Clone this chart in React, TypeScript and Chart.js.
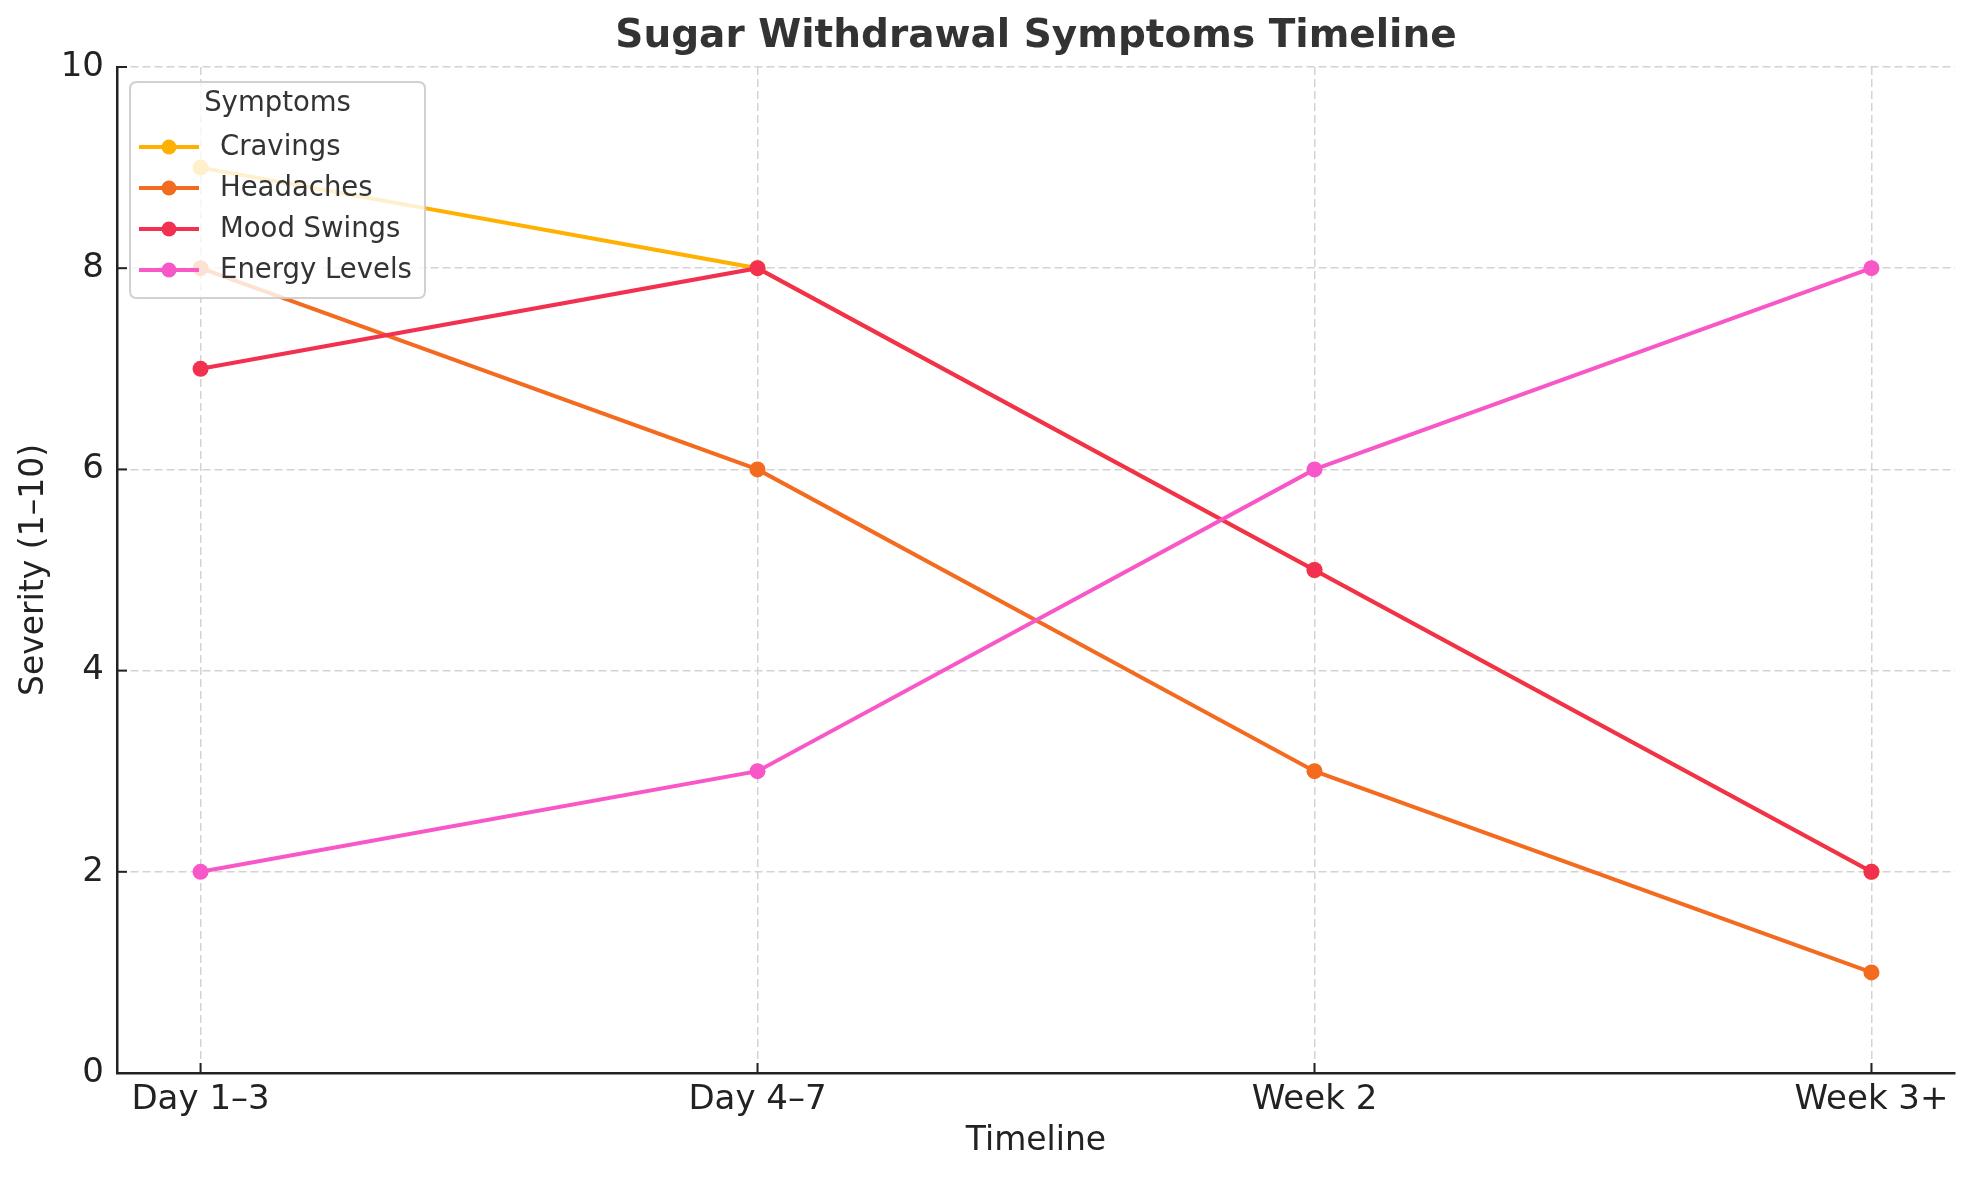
import { useEffect, useRef } from "react";
import { Chart, registerables } from "chart.js";

Chart.register(...registerables);

const categories = ["Day 1–3", "Day 4–7", "Week 2", "Week 3+"];
const cravings = [9, 8, 5, 2];
const headaches = [8, 6, 3, 1];
const moodSwings = [7, 8, 5, 2];
const energyLevels = [2, 3, 6, 8];
const seriesNames = ["Cravings", "Headaches", "Mood Swings", "Energy Levels"];
const seriesColors = ["#FFB000", "#F36B1F", "#F2304F", "#F857C8"];
const yTickValues = [0, 2, 4, 6, 8, 10];
const titleText = "Sugar Withdrawal Symptoms Timeline";
const xTitle = "Timeline";
const yTitle = "Severity (1–10)";
const legendTitle = "Symptoms";

const FONT = "'DejaVu Sans', sans-serif";
const W = 1974;
const H = 1180;

const decorPlugin = {
  id: "decor",
  afterDatasetsDraw(chart: any) {
    const ctx = chart.ctx;
    const bx = 130, by = 82, bw = 295, bh = 216, r = 7;
    ctx.save();
    ctx.beginPath();
    ctx.moveTo(bx + r, by);
    ctx.lineTo(bx + bw - r, by);
    ctx.quadraticCurveTo(bx + bw, by, bx + bw, by + r);
    ctx.lineTo(bx + bw, by + bh - r);
    ctx.quadraticCurveTo(bx + bw, by + bh, bx + bw - r, by + bh);
    ctx.lineTo(bx + r, by + bh);
    ctx.quadraticCurveTo(bx, by + bh, bx, by + bh - r);
    ctx.lineTo(bx, by + r);
    ctx.quadraticCurveTo(bx, by, bx + r, by);
    ctx.closePath();
    ctx.fillStyle = "rgba(255,255,255,0.8)";
    ctx.fill();
    ctx.lineWidth = 2;
    ctx.strokeStyle = "rgba(204,204,204,0.9)";
    ctx.stroke();

    ctx.fillStyle = "#333333";
    ctx.font = `27.5px ${FONT}`;
    ctx.textAlign = "center";
    ctx.textBaseline = "middle";
    ctx.fillText(legendTitle, bx + bw / 2, 104);

    const rows = [147, 188, 229, 270];
    ctx.textAlign = "left";
    seriesNames.forEach((name, i) => {
      const y = rows[i];
      ctx.strokeStyle = seriesColors[i];
      ctx.lineWidth = 4;
      ctx.beginPath();
      ctx.moveTo(139, y);
      ctx.lineTo(199, y);
      ctx.stroke();
      ctx.fillStyle = seriesColors[i];
      ctx.beginPath();
      ctx.arc(169, y, 7.5, 0, Math.PI * 2);
      ctx.fill();
      ctx.fillStyle = "#333333";
      ctx.fillText(name, 220, y + 1);
    });
    ctx.restore();
  },
  afterDraw(chart: any) {
    const ctx = chart.ctx;
    const area = chart.chartArea;
    const xs = chart.scales.x;
    const ys = chart.scales.y;
    ctx.save();
    ctx.strokeStyle = "#222222";
    ctx.lineWidth = 2;
    categories.forEach((_, i) => {
      const px = xs.getPixelForValue(i);
      ctx.beginPath();
      ctx.moveTo(px, area.bottom);
      ctx.lineTo(px, area.bottom - 10);
      ctx.stroke();
    });
    yTickValues.forEach((v) => {
      const py = ys.getPixelForValue(v);
      ctx.beginPath();
      ctx.moveTo(area.left, py);
      ctx.lineTo(area.left + 10, py);
      ctx.stroke();
    });
    const cx = (area.left + area.right) / 2;
    ctx.fillStyle = "#333333";
    ctx.font = `bold 39px ${FONT}`;
    ctx.textAlign = "center";
    ctx.textBaseline = "middle";
    ctx.fillText(titleText, cx, 37);
    ctx.fillStyle = "#222222";
    ctx.font = `33px ${FONT}`;
    ctx.fillText(xTitle, cx, 1141);
    ctx.translate(34, (area.top + area.bottom) / 2);
    ctx.rotate(-Math.PI / 2);
    ctx.fillText(yTitle, 0, 0);
    ctx.restore();
  },
};

export default function App() {
  const ref = useRef<HTMLCanvasElement | null>(null);

  useEffect(() => {
    const canvas = ref.current;
    if (!canvas) return;
    const seriesData = [cravings, headaches, moodSwings, energyLevels];
    const chart = new Chart(canvas, {
      type: "line",
      data: {
        datasets: seriesData.map((vals, i) => ({
          label: seriesNames[i],
          data: vals.map((v, j) => ({ x: j, y: v })),
          borderColor: seriesColors[i],
          backgroundColor: seriesColors[i],
          pointBackgroundColor: seriesColors[i],
          pointBorderWidth: 0,
          pointRadius: 8,
          borderWidth: 4,
          tension: 0,
          fill: false,
          order: seriesData.length - i,
        })),
      },
      options: {
        responsive: false,
        animation: false,
        devicePixelRatio: 1,
        layout: { padding: { top: 67, left: 0, right: 19, bottom: 0 } },
        plugins: {
          legend: { display: false },
          title: { display: false },
          tooltip: { enabled: false },
        },
        scales: {
          x: {
            type: "linear",
            min: -0.15,
            max: 3.15,
            afterBuildTicks: (scale: any) => {
              scale.ticks = categories.map((_, i) => ({ value: i }));
            },
            afterFit: (scale: any) => {
              scale.height = 107;
            },
            ticks: {
              callback: (v: any) => categories[Math.round(Number(v))] ?? "",
              font: { family: FONT, size: 34 },
              color: "#222222",
              padding: 7,
              maxRotation: 0,
              autoSkip: false,
            },
            grid: {
              display: true,
              drawTicks: false,
              color: "#d3d3d3",
              lineWidth: 1.5,
            },
            border: { display: true, color: "#222222", width: 2.5, dash: [8, 4] },
          },
          y: {
            type: "linear",
            min: 0,
            max: 10,
            afterBuildTicks: (scale: any) => {
              scale.ticks = yTickValues.map((v) => ({ value: v }));
            },
            afterFit: (scale: any) => {
              scale.width = 117;
            },
            ticks: {
              callback: (v: any) => String(v),
              font: { family: FONT, size: 34 },
              color: "#222222",
              padding: 13,
            },
            grid: {
              display: true,
              drawTicks: false,
              color: "#d3d3d3",
              lineWidth: 1.5,
            },
            border: { display: true, color: "#222222", width: 2.5, dash: [8, 4] },
          },
        },
      },
      plugins: [decorPlugin],
    } as any);
    return () => chart.destroy();
  }, []);

  return (
    <div style={{ position: "absolute", left: 0, top: 0, width: W, height: H, background: "#ffffff" }}>
      <canvas ref={ref} width={W} height={H} style={{ display: "block", width: W, height: H }} />
    </div>
  );
}
